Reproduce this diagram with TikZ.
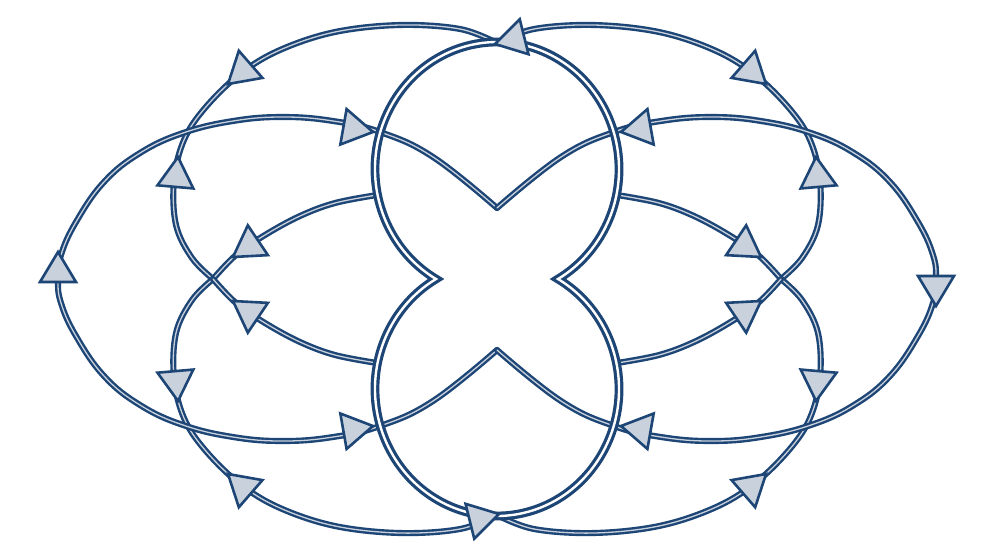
\documentclass[tikz,border=0pt]{standalone}

\definecolor{ink}{HTML}{1D4676}
\definecolor{haze}{HTML}{C9D1DD}

\begin{document}
\begin{tikzpicture}[x=1pt, y=-1pt,
    band/.style={draw=ink, line width=2.4pt, double=haze, double distance=1.3pt, line cap=round},
    ring/.style={draw=ink, line width=3.2pt, double=white, double distance=2.4pt, line join=miter},
    tipline/.style={draw=ink, fill=haze, line width=2.6pt, line join=miter},
    tipmark/.pic={\draw[tipline] (0,0) -- (-30,-18) -- (-30,18) -- cycle;}]
    \useasboundingbox (0,0) rectangle (992,558);

    % meeting points
    \coordinate (jt) at (497,43);
    \coordinate (jb) at (497,515);
    \coordinate (lx) at (213,279);
    \coordinate (rx) at (781,279);
    \coordinate (xt) at (497,208);
    \coordinate (xb) at (497,350);
    \coordinate (cl) at (436,279);
    \coordinate (cr) at (558,279);
    \coordinate (ce1) at (377,195);
    \coordinate (ce2) at (377,363);
    \coordinate (ce3) at (617,195);
    \coordinate (ce4) at (617,363);

    % outer arcs
    \draw[band] plot[smooth, tension=0.6] coordinates {(jt) (460,29) (400,25) (335,32) (280,50) (240,74) (205,108) (184,140) (174,180) (176,225) (192,258) (lx)};
    \draw[band] plot[smooth, tension=0.6] coordinates {(lx) (192,300) (176,333) (174,378) (184,418) (205,450) (240,484) (280,508) (335,526) (400,533) (460,529) (jb)};
    \draw[band] plot[smooth, tension=0.6] coordinates {(jt) (534,29) (594,25) (659,32) (714,50) (754,74) (789,108) (810,140) (820,180) (818,225) (802,258) (rx)};
    \draw[band] plot[smooth, tension=0.6] coordinates {(rx) (802,300) (818,333) (820,378) (810,418) (789,450) (754,484) (714,508) (659,526) (594,533) (534,529) (jb)};

    % inner arcs
    \draw[band] plot[smooth, tension=0.6] coordinates {(ce1) (335,203) (300,216) (265,235) (236,255) (lx)};
    \draw[band] plot[smooth, tension=0.6] coordinates {(ce2) (335,355) (300,342) (265,323) (236,303) (lx)};
    \draw[band] plot[smooth, tension=0.6] coordinates {(ce3) (659,203) (694,216) (729,235) (758,255) (rx)};
    \draw[band] plot[smooth, tension=0.6] coordinates {(ce4) (659,355) (694,342) (729,323) (758,303) (rx)};

    % side loops
    \draw[band] plot[smooth, tension=0.7] coordinates {(xt) (433,157) (380,132) (333,121) (283,117) (233,121) (183,133) (140,153) (104,182) (76,222) (61,255) (58,279) (61,303) (76,336) (104,376) (140,405) (183,425) (233,437) (283,441) (333,437) (380,426) (433,401) (xb)};
    \draw[band] plot[smooth, tension=0.7] coordinates {(xt) (561,157) (614,132) (661,121) (711,117) (761,121) (811,133) (854,153) (890,182) (918,222) (933,255) (936,279) (933,303) (918,336) (890,376) (854,405) (811,425) (761,437) (711,441) (661,437) (614,426) (561,401) (xb)};

    % middle rings
    \draw[ring] (cl) arc[start angle=120, end angle=420, x radius=122, y radius=127]
        arc[start angle=-60, end angle=240, x radius=122, y radius=127] -- cycle;

    % heads
    \pic[rotate=-139] at (228,84) {tipmark};
    \pic[rotate=-10] at (373,132) {tipmark};
    \pic[rotate=85] at (178,157) {tipmark};
    \pic[rotate=-146] at (233,257) {tipmark};
    \pic[rotate=90] at (58,252) {tipmark};
    \pic[rotate=-166] at (495,44) {tipmark};
    \pic[rotate=-41] at (766,84) {tipmark};
    \pic[rotate=-170] at (621,132) {tipmark};
    \pic[rotate=95] at (816,157) {tipmark};
    \pic[rotate=-34] at (761,257) {tipmark};

    \pic[rotate=139] at (228,474) {tipmark};
    \pic[rotate=10] at (373,426) {tipmark};
    \pic[rotate=-85] at (178,401) {tipmark};
    \pic[rotate=146] at (233,301) {tipmark};
    \pic[rotate=14] at (499,514) {tipmark};
    \pic[rotate=41] at (766,474) {tipmark};
    \pic[rotate=170] at (621,426) {tipmark};
    \pic[rotate=-95] at (816,401) {tipmark};
    \pic[rotate=34] at (761,301) {tipmark};
    \pic[rotate=-90] at (936,306) {tipmark};
\end{tikzpicture}
\end{document}
